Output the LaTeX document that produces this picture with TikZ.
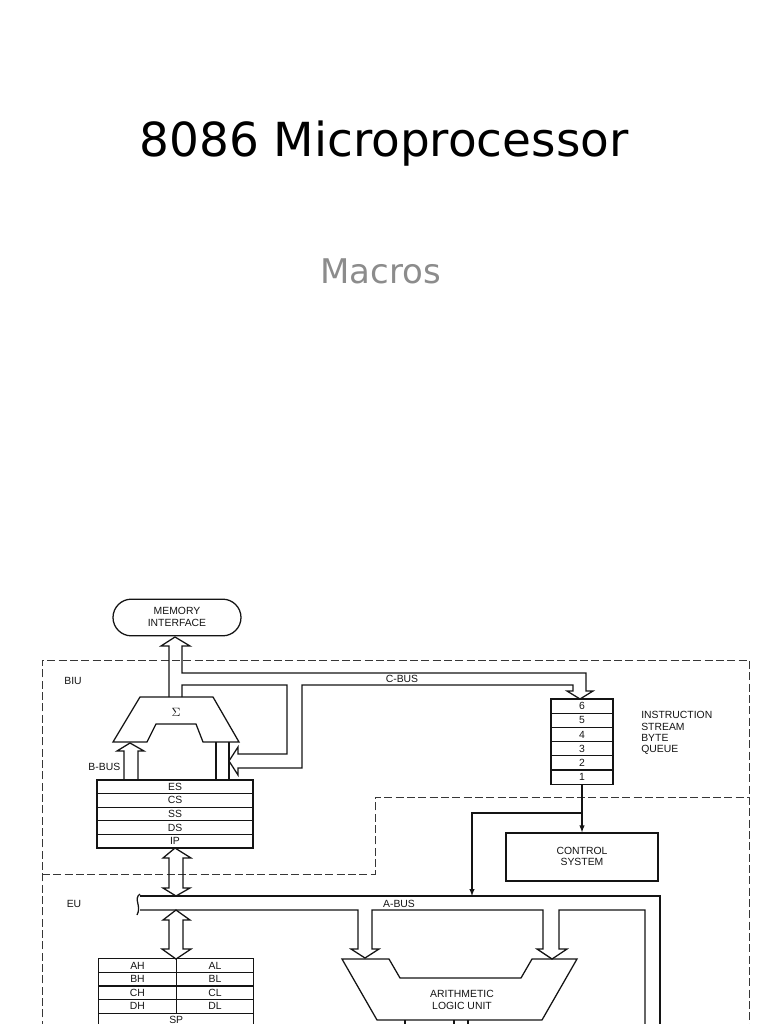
\documentclass[tikz,border=0pt]{standalone}
\usepackage{fontspec}
\setmainfont{DejaVu Sans}
\newfontfamily\scanfont{Liberation Sans}
\usetikzlibrary{arrows, positioning, shapes.misc}
\definecolor{inkc}{HTML}{141414}
\tikzset{
  scanlbl/.style={font=\scanfont\fontsize{7.8}{8.6}\selectfont, text=inkc, inner sep=0pt},
  segrow/.style={scanlbl, draw=inkc, line width=0.95pt, minimum width=117pt, minimum height=10.2pt, outer sep=0pt},
  halfrow/.style={scanlbl, draw=inkc, line width=0.95pt, minimum width=58.1pt, minimum height=10.2pt, outer sep=0pt},
  qrow/.style={scanlbl, draw=inkc, line width=0.95pt, minimum width=46.5pt, minimum height=10.65pt, outer sep=0pt},
  bus/.style={draw=inkc, line width=0.95pt, line join=miter},
  zone/.style={draw=inkc!85, line width=0.75pt, dash pattern=on 6pt off 2.5pt},
  thinarrow/.style={draw=inkc, line width=0.8pt, -latex}
}
\begin{document}
\begin{tikzpicture}[x=0.75pt,y=-0.75pt]
\clip (0,0) rectangle (768,1024);
\node[font=\fontsize{35.2}{42}\selectfont] (title) at (384,143.5) {8086 Microprocessor};
\node[font=\fontsize{25.5}{30}\selectfont, text=black!45] (subtitle) at (380.5,271) {Macros};
% dashed zones
\draw[zone] (42,1040) -- (42,660) -- (749,660) -- (749,1040);
\draw[zone] (42,874) -- (375,874) -- (375,797) -- (749,797);
% memory interface and sigma adder
\node[scanlbl, draw=inkc, line width=0.95pt, rounded rectangle, minimum width=96pt, minimum height=27.5pt, align=center, text depth=1pt] (mem) at (177,617.5) {MEMORY\\INTERFACE};
\draw[bus] (140,697) -- (213,697) -- (239,742) -- (203,742) -- (196,724) -- (156,724) -- (147,742) -- (113,742) -- cycle;
\node[scanlbl, font=\scanfont\fontsize{9.5}{10}\selectfont] (sigma) at (176,712) {$\Sigma$};
% segment registers
\node[segrow] (es) at (175,786.8) {ES};
\node[segrow] (cs) at (175,800.4) {CS};
\node[segrow] (ss) at (175,814) {SS};
\node[segrow] (ds) at (175,827.6) {DS};
\node[segrow] (ip) at (175,841.2) {IP};
% queue
\node[qrow] (q6) at (582,706.1) {6};
\node[qrow] (q5) at (582,720.3) {5};
\node[qrow] (q4) at (582,734.5) {4};
\node[qrow] (q3) at (582,748.7) {3};
\node[qrow] (q2) at (582,762.9) {2};
\node[qrow] (q1) at (582,777.1) {1};
\node[scanlbl, align=left, anchor=north west] (qlabel) at (641,711) {INSTRUCTION\\STREAM\\BYTE\\QUEUE};
\node[scanlbl, draw=inkc, line width=0.95pt, minimum width=114pt, minimum height=36pt, align=center, text depth=1pt] (ctrl) at (582,857) {CONTROL\\SYSTEM};
% general registers
\node[halfrow] (ah) at (137.5,965.6) {AH};
\node[halfrow] (al) at (215,965.6) {AL};
\node[halfrow] (bh) at (137.5,979.2) {BH};
\node[halfrow] (bl) at (215,979.2) {BL};
\node[halfrow] (ch) at (137.5,992.8) {CH};
\node[halfrow] (cl) at (215,992.8) {CL};
\node[halfrow] (dh) at (137.5,1006.4) {DH};
\node[halfrow] (dl) at (215,1006.4) {DL};
\node[segrow, minimum width=116.2pt] (sp) at (176.2,1020) {SP};
% alu
\draw[bus] (342,959) -- (389,959) -- (400,978) -- (521,978) -- (532,959) -- (577,959) -- (542,1020) -- (377,1020) -- cycle;
\node[scanlbl, align=center] (alu) at (462,1000) {ARITHMETIC\\LOGIC UNIT};
\draw[bus] (405,1020) -- (405,1030);
\draw[bus] (454,1020) -- (454,1030);
\draw[bus] (468,1020) -- (468,1030);
% hollow buses
\draw[bus] (169,697) -- (169,646) -- (161,646) -- (175,637) -- (190,646) -- (182,646) -- (182,673) -- (586,673) -- (586,691) -- (593,691) -- (580,699) -- (567,691) -- (573,691) -- (573,685) -- (302,685) -- (302,768) -- (238,768) -- (238,775) -- (229,761) -- (238,747) -- (238,754) -- (287,754) -- (287,685) -- (182,685) -- (182,697);
\node[scanlbl] (cbus) at (402,679) {C-BUS};
\draw[bus] (124,780) -- (124,751) -- (117,751) -- (130,743) -- (144,751) -- (138,751) -- (138,780);
\node[scanlbl, anchor=east] (bbus) at (120.5,767) {B-BUS};
\draw[bus] (216,742) -- (216,780);
\draw[bus] (229,742) -- (229,780);
\draw[bus] (175,848) -- (191,858) -- (183,858) -- (183,888) -- (190,888) -- (176,896) -- (163,888) -- (169,888) -- (169,858) -- (163,858) -- cycle;
\draw[bus] (176,910) -- (190,920) -- (183,920) -- (183,949) -- (191,949) -- (176,959) -- (162,949) -- (169,949) -- (169,920) -- (163,920) -- cycle;
% a-bus
\draw[bus] (140,896) -- (660,896) -- (660,1030);
\draw[bus] (140,910) -- (358,910) -- (358,949) -- (351,949) -- (365,958) -- (379,949) -- (372,949) -- (372,910) -- (543,910) -- (543,949) -- (537,949) -- (552,959) -- (567,949) -- (559,949) -- (559,910) -- (645,910) -- (645,1030);
\draw[bus] (140,894) .. controls (133,899) and (142,906) .. (137,915);
\node[scanlbl] (abus) at (399,904) {A-BUS};
% thin lines
\coordinate (branch) at (q1.south |- 0,813);
\coordinate (abusin) at (472,896);
\draw[thinarrow] (q1.south) -- (ctrl.north -| q1.south);
\draw[thinarrow] (branch) -- (branch -| abusin) -- (abusin);
% zone names
\node[scanlbl] (biu) at (73,681) {BIU};
\node[scanlbl] (eu) at (74,904) {EU};
\end{tikzpicture}
\end{document}
